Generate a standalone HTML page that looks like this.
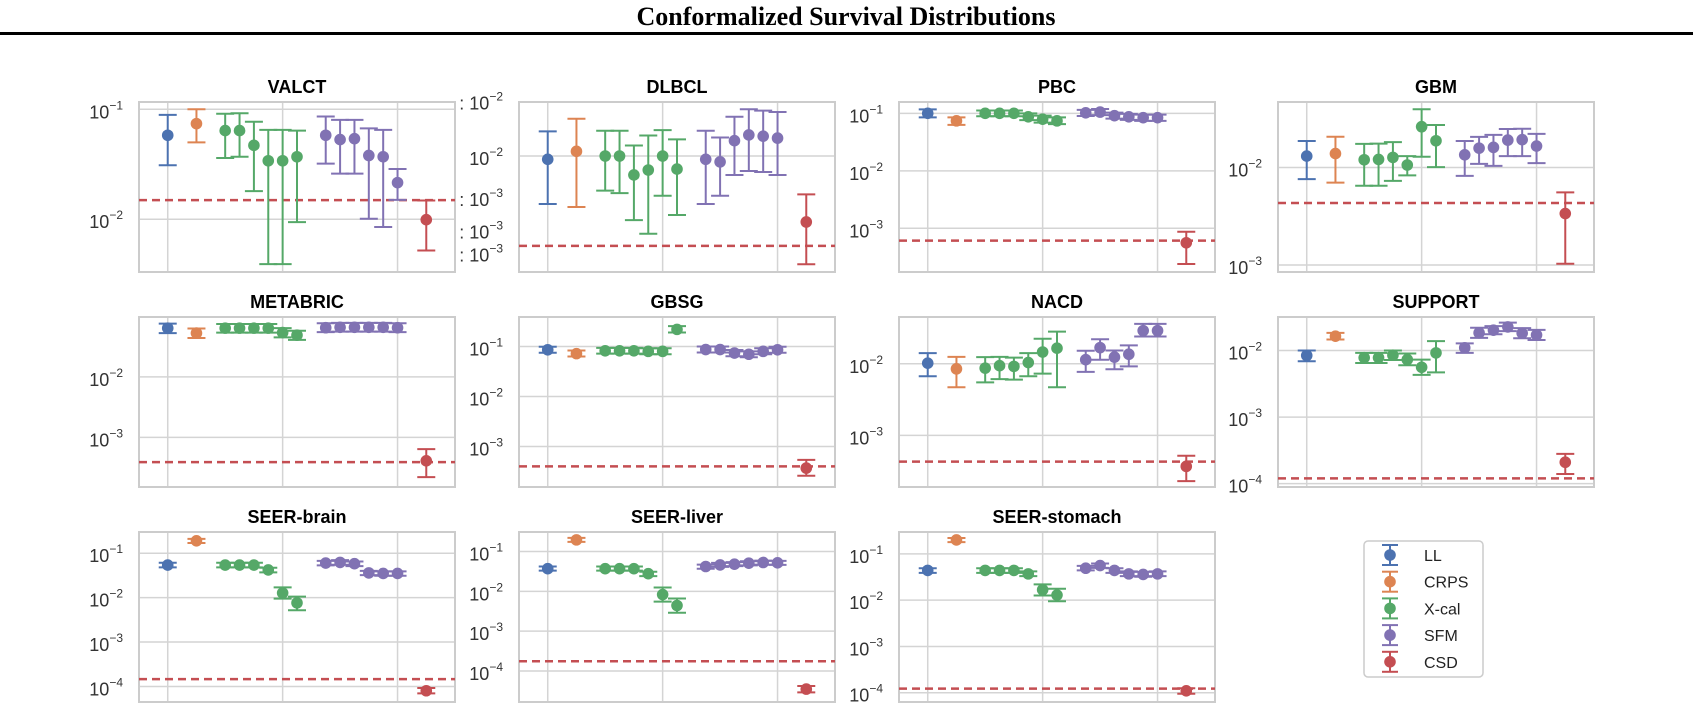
<!DOCTYPE html>
<html><head><meta charset="utf-8"><style>
body{margin:0;background:#fff;}
svg{display:block;font-family:"Liberation Sans",Arial,sans-serif;}
</style></head><body>
<svg id="fig" width="1693" height="714" viewBox="0 0 1693 714" xmlns="http://www.w3.org/2000/svg">
<text x="846" y="25" text-anchor="middle" font-family="Liberation Serif, serif" font-weight="bold" font-size="26">Conformalized Survival Distributions</text>
<rect x="0" y="32" width="1693" height="3" fill="#000"/>
<g id="panels"></g>
<g id="legend">
<rect x="1364" y="541" width="119" height="136" rx="4" fill="#fff" stroke="#cccccc" stroke-width="1.5"/>
</g>
</svg>
<script>
const methods = ["LL","CRPS","X-cal","X-cal","X-cal","X-cal","X-cal","X-cal","SFM","SFM","SFM","SFM","SFM","SFM","CSD"];
const legendLabels = ["LL","CRPS","X-cal","SFM","CSD"];

const valctMean=[0.058,0.074,0.064,0.064,0.047,0.034,0.034,0.037,0.058,0.053,0.054,0.038,0.037,0.0215,0.0099];
const valctLo=[0.031,0.050,0.036,0.037,0.018,0.0039,0.0039,0.0094,0.032,0.026,0.026,0.0101,0.0085,0.015,0.0052];
const valctHi=[0.089,0.10,0.091,0.092,0.077,0.065,0.065,0.064,0.086,0.080,0.080,0.067,0.065,0.0286,0.0148];
const valctBase=0.0149;

const dlbclMean=[0.0096,0.0106,0.0100,0.0100,0.0079,0.0084,0.0100,0.0085,0.0096,0.0093,0.0121,0.0130,0.0128,0.0125,0.0044];
const dlbclLo=[0.0055,0.0053,0.0065,0.0063,0.0045,0.0038,0.0061,0.0048,0.0055,0.0061,0.0079,0.0083,0.0082,0.0079,0.0026];
const dlbclHi=[0.0136,0.0159,0.0137,0.0137,0.0114,0.0129,0.0138,0.0123,0.0137,0.0126,0.0163,0.0179,0.0176,0.0173,0.0062];
const dlbclBase=0.00327;

const pbcMean=[0.100,0.074,0.100,0.100,0.100,0.087,0.079,0.074,0.102,0.105,0.091,0.087,0.084,0.084,0.00056];
const pbcLo=[0.085,0.063,0.089,0.089,0.089,0.076,0.069,0.065,0.090,0.093,0.081,0.077,0.074,0.074,0.00024];
const pbcHi=[0.117,0.085,0.112,0.112,0.112,0.100,0.091,0.085,0.115,0.119,0.103,0.098,0.095,0.095,0.00087];
const pbcBase=0.00061;

const gbmMean=[0.0131,0.0139,0.0120,0.0121,0.0127,0.0106,0.0262,0.0188,0.0135,0.0158,0.0161,0.0191,0.0193,0.0166,0.00337];
const gbmLo=[0.0076,0.0070,0.0065,0.0065,0.0073,0.0083,0.0129,0.0101,0.0082,0.0109,0.0104,0.0131,0.0131,0.0111,0.00103];
const gbmHi=[0.0187,0.0207,0.0175,0.0176,0.0182,0.0131,0.0396,0.0273,0.0187,0.0206,0.0216,0.0248,0.0250,0.0221,0.00556];
const gbmBase=0.00433;

const metabricMean=[0.064,0.053,0.064,0.064,0.064,0.064,0.054,0.049,0.065,0.066,0.066,0.066,0.066,0.065,0.00041];
const metabricLo=[0.053,0.044,0.054,0.054,0.054,0.054,0.045,0.041,0.055,0.056,0.056,0.056,0.056,0.055,0.00022];
const metabricHi=[0.076,0.063,0.075,0.075,0.075,0.075,0.064,0.058,0.077,0.078,0.078,0.078,0.078,0.077,0.00064];
const metabricBase=0.00039;

const gbsgMean=[0.086,0.072,0.082,0.082,0.082,0.080,0.080,0.22,0.087,0.087,0.074,0.070,0.080,0.086,0.00037];
const gbsgLo=[0.075,0.063,0.072,0.072,0.072,0.070,0.070,0.19,0.076,0.076,0.064,0.061,0.070,0.075,0.00026];
const gbsgHi=[0.099,0.083,0.094,0.094,0.094,0.092,0.092,0.255,0.100,0.100,0.085,0.080,0.092,0.099,0.00054];
const gbsgBase=0.0004;

const nacdMean=[0.0102,0.0085,0.0087,0.0094,0.0092,0.0104,0.0146,0.0165,0.0114,0.0168,0.0124,0.0136,0.029,0.029,0.00037];
const nacdLo=[0.0067,0.0047,0.0055,0.0061,0.0060,0.0067,0.0073,0.0047,0.0077,0.0114,0.0084,0.0092,0.024,0.024,0.00023];
const nacdHi=[0.0141,0.0125,0.0124,0.0125,0.0122,0.0141,0.0224,0.0281,0.0152,0.0220,0.0153,0.0181,0.036,0.036,0.00052];
const nacdBase=0.00043;

const supportMean=[0.0084,0.0164,0.0078,0.0078,0.0085,0.0073,0.0056,0.0092,0.0110,0.0184,0.0202,0.0226,0.0182,0.0171,0.00021];
const supportLo=[0.0069,0.0146,0.0065,0.0065,0.0072,0.0060,0.0043,0.0047,0.0092,0.0155,0.0175,0.0195,0.0153,0.0144,0.00014];
const supportHi=[0.0100,0.0184,0.0092,0.0092,0.0100,0.0090,0.0073,0.0138,0.0128,0.0220,0.0232,0.0262,0.0217,0.0204,0.00028];
const supportBase=0.00012;

const brainMean=[0.054,0.19,0.054,0.054,0.054,0.042,0.0127,0.0076,0.060,0.062,0.058,0.036,0.035,0.035,0.00008];
const brainLo=[0.048,0.17,0.048,0.048,0.048,0.037,0.0095,0.0052,0.053,0.055,0.051,0.032,0.031,0.031,0.00007];
const brainHi=[0.061,0.21,0.061,0.061,0.061,0.047,0.017,0.0105,0.067,0.070,0.065,0.040,0.039,0.039,0.000092];
const brainBase=0.000146;

const liverMean=[0.037,0.196,0.037,0.037,0.037,0.0277,0.0083,0.0044,0.042,0.046,0.048,0.051,0.053,0.052,0.000035];
const liverLo=[0.033,0.175,0.033,0.033,0.033,0.024,0.0055,0.0029,0.037,0.041,0.043,0.045,0.047,0.046,0.000029];
const liverHi=[0.042,0.22,0.042,0.042,0.042,0.031,0.0125,0.0066,0.047,0.052,0.054,0.057,0.059,0.058,0.000042];
const liverBase=0.000175;

const stomachMean=[0.044,0.20,0.044,0.044,0.044,0.037,0.0168,0.0129,0.049,0.056,0.044,0.037,0.036,0.037,0.00011];
const stomachLo=[0.039,0.18,0.039,0.039,0.039,0.033,0.0126,0.0095,0.044,0.050,0.039,0.033,0.032,0.033,0.000095];
const stomachHi=[0.049,0.22,0.049,0.049,0.049,0.042,0.022,0.0177,0.055,0.062,0.049,0.042,0.041,0.042,0.000125];
const stomachBase=0.000123;

const dlbclTickVals=[0.02,0.01,0.006,0.004,0.003];
const dlbclTickText=[[": 10","−2"],["10","−2"],[": 10","−3"],[": 10","−3"],[": 10","−3"]];

const colors={"LL":"#4C72B0","CRPS":"#DD8452","X-cal":"#55A868","SFM":"#8172B3","CSD":"#C44E52"};
const NS="http://www.w3.org/2000/svg";
const W=316,H=170;
function mk(tag,attrs,parent){const e=document.createElementNS(NS,tag);for(const k in attrs)e.setAttribute(k,attrs[k]);if(parent)parent.appendChild(e);return e;}

// x position index: method index + group index (gap between groups)
function xIndex(i){const order=["LL","CRPS","X-cal","SFM","CSD"];return i+order.indexOf(methods[i]);}

const panels=[
 {name:"VALCT",col:0,row:0,top:-0.934,bot:-2.48,mean:valctMean,lo:valctLo,hi:valctHi,base:valctBase,ticks:[0.1,0.01]},
 {name:"DLBCL",col:1,row:0,top:-1.708,bot:-2.627,mean:dlbclMean,lo:dlbclLo,hi:dlbclHi,base:dlbclBase,ticks:dlbclTickVals,tickText:dlbclTickText,grid:[0.01]},
 {name:"PBC",col:2,row:0,top:-0.803,bot:-3.76,mean:pbcMean,lo:pbcLo,hi:pbcHi,base:pbcBase,ticks:[0.1,0.01,0.001]},
 {name:"GBM",col:3,row:0,top:-1.328,bot:-3.072,mean:gbmMean,lo:gbmLo,hi:gbmHi,base:gbmBase,ticks:[0.01,0.001]},
 {name:"METABRIC",col:0,row:1,top:-1.01,bot:-3.82,mean:metabricMean,lo:metabricLo,hi:metabricHi,base:metabricBase,ticks:[0.01,0.001]},
 {name:"GBSG",col:1,row:1,top:-0.41,bot:-3.81,mean:gbsgMean,lo:gbsgLo,hi:gbsgHi,base:gbsgBase,ticks:[0.1,0.01,0.001]},
 {name:"NACD",col:2,row:1,top:-1.347,bot:-3.72,mean:nacdMean,lo:nacdLo,hi:nacdHi,base:nacdBase,ticks:[0.01,0.001]},
 {name:"SUPPORT",col:3,row:1,top:-1.497,bot:-4.05,mean:supportMean,lo:supportLo,hi:supportHi,base:supportBase,ticks:[0.01,0.001,0.0001]},
 {name:"SEER-brain",col:0,row:2,top:-0.523,bot:-4.35,mean:brainMean,lo:brainLo,hi:brainHi,base:brainBase,ticks:[0.1,0.01,0.001,0.0001]},
 {name:"SEER-liver",col:1,row:2,top:-0.51,bot:-4.78,mean:liverMean,lo:liverLo,hi:liverHi,base:liverBase,ticks:[0.1,0.01,0.001,0.0001]},
 {name:"SEER-stomach",col:2,row:2,top:-0.527,bot:-4.2,mean:stomachMean,lo:stomachLo,hi:stomachHi,base:stomachBase,ticks:[0.1,0.01,0.001,0.0001]}
];
const colX=[139,519,899,1278], rowY=[102,317,532];
const root=document.getElementById('panels');

panels.forEach((p,pi)=>{
 const x0=colX[p.col], y0=rowY[p.row];
 const sx=v=>x0+(v+2)/22*W;
 const sy=v=>y0+(p.top-Math.log10(v))/(p.top-p.bot)*H;
 const slug=p.name.toLowerCase();
 const g=mk('g',{},root);
 
 
 const cp=mk('clipPath',{id:'cp'+pi},g);
 mk('rect',{x:x0,y:y0,width:W,height:H},cp);
 const t=mk('text',{x:x0+W/2,y:y0-9,'text-anchor':'middle','font-weight':'bold','font-size':'18'},g);
 t.textContent=p.name;
 
 
 // grid
 [0,8,16].forEach(v=>{
  const l=mk('line',{x1:sx(v),x2:sx(v),y1:y0,y2:y0+H,stroke:'#d4d4d4','stroke-width':1.5},g);
  
  
 });
 (p.grid||p.ticks).forEach(v=>{
  const y=sy(v);
  const l=mk('line',{x1:x0,x2:x0+W,y1:y,y2:y,stroke:'#d4d4d4','stroke-width':1.5},g);
  
  
 });
 p.ticks.forEach((v,ti)=>{
  const y=sy(v);
  let base='10',sup='−'+Math.round(-Math.log10(v));
  if(p.tickText){base=p.tickText[ti][0];sup=p.tickText[ti][1];}
  const tx=mk('text',{x:x0-16,y:y+9,'text-anchor':'end','font-size':'18',fill:'#333'},g);
  
  
  const s1=mk('tspan',{},tx);s1.textContent=base;
  const s2=mk('tspan',{'font-size':'12',dy:'-9'},tx);s2.textContent=sup;
 });
 const frame=mk('rect',{x:x0,y:y0,width:W,height:H,fill:'none',stroke:'#cccccc','stroke-width':2},g);
 
 
 const dg=mk('g',{'clip-path':'url(#cp'+pi+')'},g);
 const bl=mk('line',{x1:x0,x2:x0+W,y1:sy(p.base),y2:sy(p.base),stroke:'#C44E52','stroke-width':2.5,'stroke-dasharray':'8,5'},dg);
 
 
 p.mean.forEach((m,i)=>{
  const c=colors[methods[i]], x=sx(xIndex(i));
  const eg=mk('g',{stroke:c,'stroke-width':2},dg);
  
  
  const yl=sy(p.lo[i]), yh=sy(p.hi[i]);
  mk('line',{x1:x,x2:x,y1:yh,y2:yl},eg);
  mk('line',{x1:x-9,x2:x+9,y1:yh,y2:yh},eg);
  mk('line',{x1:x-9,x2:x+9,y1:yl,y2:yl},eg);
  const pt=mk('circle',{cx:x,cy:sy(m),r:5.8,fill:c,stroke:'none'},dg);
  
  
 });
});

const lg=document.getElementById('legend');
legendLabels.forEach((lab,i)=>{
 const y=555+i*26.7, c=colors[lab];
 const e=mk('g',{stroke:c,'stroke-width':2},lg);
 
 
 mk('line',{x1:1390,x2:1390,y1:y-10,y2:y+10},e);
 mk('line',{x1:1382,x2:1398,y1:y-10,y2:y-10},e);
 mk('line',{x1:1382,x2:1398,y1:y+10,y2:y+10},e);
 mk('circle',{cx:1390,cy:y,r:5.8,fill:c,stroke:'none'},e);
 const t=mk('text',{x:1424,y:y+6,'font-size':'16',fill:'#222'},lg);
 t.textContent=lab;
 
 
});
</script>
</body></html>
